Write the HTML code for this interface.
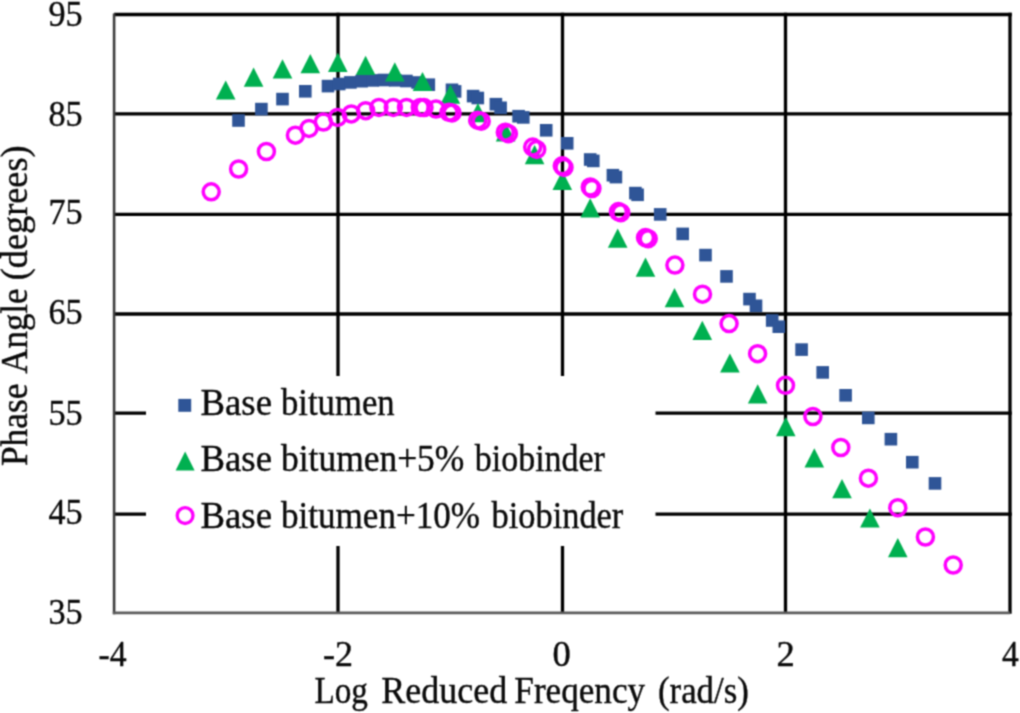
<!DOCTYPE html>
<html lang="en">
<head>
<meta charset="utf-8">
<title>Phase Angle vs Log Reduced Frequency</title>
<style>
html,body{margin:0;padding:0;background:#fff;}
body{width:1020px;height:713px;overflow:hidden;}
svg{display:block;}
text{font-family:"Liberation Serif","Times New Roman",serif;fill:#0a0a0a;stroke:#0a0a0a;stroke-width:0.4px;stroke-linejoin:round;}
</style>
</head>
<body>
<svg width="1020" height="713" viewBox="0 0 1020 713">
<defs><filter id="soft" x="0" y="0" width="1020" height="713" filterUnits="userSpaceOnUse" color-interpolation-filters="sRGB"><feConvolveMatrix order="3" kernelMatrix="0.0484 0.1232 0.0484 0.1232 0.3136 0.1232 0.0484 0.1232 0.0484" edgeMode="duplicate" preserveAlpha="true"/></filter></defs>
<g filter="url(#soft)">
<rect x="0" y="0" width="1020" height="713" fill="#ffffff"/>
<g stroke="#000" stroke-width="3.3" fill="none" stroke-linecap="butt">
<line x1="114.1" y1="14.5" x2="1011.8" y2="14.5"/>
<line x1="114.1" y1="113.8" x2="1011.8" y2="113.8"/>
<line x1="114.1" y1="214.4" x2="1011.8" y2="214.4"/>
<line x1="114.1" y1="314.0" x2="1011.8" y2="314.0"/>
<line x1="114.1" y1="413.1" x2="1011.8" y2="413.1"/>
<line x1="114.1" y1="514.2" x2="1011.8" y2="514.2"/>
<line x1="338.0" y1="12.7" x2="338.0" y2="613.6999999999999"/>
<line x1="562.5" y1="12.7" x2="562.5" y2="613.6999999999999"/>
<line x1="785.5" y1="12.7" x2="785.5" y2="613.6999999999999"/>
<line x1="1010.0" y1="12.7" x2="1010.0" y2="613.6999999999999"/>
</g>
<g fill="none" stroke-linecap="butt">
<line x1="114.1" y1="13.5" x2="114.1" y2="614.3" stroke="#3c3c3c" stroke-width="2.6"/>
<line x1="112.8" y1="612.9" x2="1010.0" y2="612.9" stroke="#5c5c5c" stroke-width="2.7"/>
</g>
<rect x="146" y="376" width="509.5" height="170" fill="#ffffff"/>
<g fill="#2F5597">
<rect x="232.20" y="114.20" width="12.6" height="12.6"/>
<rect x="255.10" y="102.80" width="12.6" height="12.6"/>
<rect x="276.20" y="92.80" width="12.6" height="12.6"/>
<rect x="299.00" y="85.00" width="12.6" height="12.6"/>
<rect x="321.70" y="79.80" width="12.6" height="12.6"/>
<rect x="332.90" y="77.70" width="12.6" height="12.6"/>
<rect x="344.10" y="76.10" width="12.6" height="12.6"/>
<rect x="355.30" y="74.90" width="12.6" height="12.6"/>
<rect x="366.50" y="74.10" width="12.6" height="12.6"/>
<rect x="377.70" y="73.70" width="12.6" height="12.6"/>
<rect x="388.90" y="74.00" width="12.6" height="12.6"/>
<rect x="400.10" y="74.70" width="12.6" height="12.6"/>
<rect x="411.30" y="76.20" width="12.6" height="12.6"/>
<rect x="422.50" y="78.40" width="12.6" height="12.6"/>
<rect x="445.70" y="83.50" width="12.6" height="12.6"/>
<rect x="448.80" y="85.10" width="12.6" height="12.6"/>
<rect x="466.80" y="89.80" width="12.6" height="12.6"/>
<rect x="471.50" y="91.70" width="12.6" height="12.6"/>
<rect x="489.60" y="97.90" width="12.6" height="12.6"/>
<rect x="494.30" y="101.50" width="12.6" height="12.6"/>
<rect x="512.30" y="109.90" width="12.6" height="12.6"/>
<rect x="517.00" y="111.10" width="12.6" height="12.6"/>
<rect x="539.90" y="124.00" width="12.6" height="12.6"/>
<rect x="560.90" y="137.00" width="12.6" height="12.6"/>
<rect x="583.90" y="153.20" width="12.6" height="12.6"/>
<rect x="587.00" y="154.60" width="12.6" height="12.6"/>
<rect x="606.60" y="168.90" width="12.6" height="12.6"/>
<rect x="609.60" y="170.80" width="12.6" height="12.6"/>
<rect x="629.10" y="186.80" width="12.6" height="12.6"/>
<rect x="631.30" y="188.50" width="12.6" height="12.6"/>
<rect x="653.90" y="208.10" width="12.6" height="12.6"/>
<rect x="676.40" y="227.60" width="12.6" height="12.6"/>
<rect x="699.20" y="248.80" width="12.6" height="12.6"/>
<rect x="720.20" y="270.10" width="12.6" height="12.6"/>
<rect x="743.20" y="292.80" width="12.6" height="12.6"/>
<rect x="749.70" y="299.50" width="12.6" height="12.6"/>
<rect x="765.90" y="314.20" width="12.6" height="12.6"/>
<rect x="772.50" y="320.40" width="12.6" height="12.6"/>
<rect x="795.30" y="343.30" width="12.6" height="12.6"/>
<rect x="816.40" y="366.10" width="12.6" height="12.6"/>
<rect x="839.30" y="389.00" width="12.6" height="12.6"/>
<rect x="862.00" y="411.60" width="12.6" height="12.6"/>
<rect x="884.60" y="432.90" width="12.6" height="12.6"/>
<rect x="906.00" y="455.90" width="12.6" height="12.6"/>
<rect x="928.70" y="477.10" width="12.6" height="12.6"/>
</g>
<g fill="#00B050">
<polygon points="225.70,80.40 235.50,99.60 215.90,99.60"/>
<polygon points="253.60,67.50 263.40,86.70 243.80,86.70"/>
<polygon points="282.50,59.30 292.30,78.50 272.70,78.50"/>
<polygon points="310.30,54.10 320.10,73.30 300.50,73.30"/>
<polygon points="337.80,52.70 347.60,71.90 328.00,71.90"/>
<polygon points="365.60,55.70 375.40,74.90 355.80,74.90"/>
<polygon points="394.80,62.20 404.60,81.40 385.00,81.40"/>
<polygon points="422.50,71.90 432.30,91.10 412.70,91.10"/>
<polygon points="450.40,84.50 460.20,103.70 440.60,103.70"/>
<polygon points="477.90,103.10 487.70,122.30 468.10,122.30"/>
<polygon points="505.60,122.40 515.40,141.60 495.80,141.60"/>
<polygon points="534.60,145.00 544.40,164.20 524.80,164.20"/>
<polygon points="562.30,170.70 572.10,189.90 552.50,189.90"/>
<polygon points="590.20,198.20 600.00,217.40 580.40,217.40"/>
<polygon points="617.70,228.50 627.50,247.70 607.90,247.70"/>
<polygon points="645.50,257.50 655.30,276.70 635.70,276.70"/>
<polygon points="674.50,288.00 684.30,307.20 664.70,307.20"/>
<polygon points="702.30,320.80 712.10,340.00 692.50,340.00"/>
<polygon points="729.90,353.40 739.70,372.60 720.10,372.60"/>
<polygon points="757.70,384.20 767.50,403.40 747.90,403.40"/>
<polygon points="785.80,417.10 795.60,436.30 776.00,436.30"/>
<polygon points="814.30,448.20 824.10,467.40 804.50,467.40"/>
<polygon points="842.00,479.00 851.80,498.20 832.20,498.20"/>
<polygon points="869.90,508.40 879.70,527.60 860.10,527.60"/>
<polygon points="897.80,538.00 907.60,557.20 888.00,557.20"/>
</g>
<g fill="none" stroke="#FF00FF" stroke-width="3.5">
<circle cx="211.20" cy="191.80" r="8.0"/>
<circle cx="238.60" cy="169.00" r="8.0"/>
<circle cx="266.40" cy="151.50" r="8.0"/>
<circle cx="295.40" cy="135.20" r="8.0"/>
<circle cx="309.00" cy="128.40" r="8.0"/>
<circle cx="323.40" cy="122.00" r="8.0"/>
<circle cx="337.60" cy="117.40" r="8.0"/>
<circle cx="351.30" cy="113.90" r="8.0"/>
<circle cx="365.70" cy="110.70" r="8.0"/>
<circle cx="378.90" cy="107.40" r="8.0"/>
<circle cx="393.30" cy="107.40" r="8.0"/>
<circle cx="406.50" cy="107.40" r="8.0"/>
<circle cx="420.30" cy="107.40" r="8.0"/>
<circle cx="424.00" cy="107.60" r="8.0"/>
<circle cx="436.00" cy="109.10" r="8.0"/>
<circle cx="449.00" cy="112.30" r="8.0"/>
<circle cx="452.00" cy="112.90" r="8.0"/>
<circle cx="477.70" cy="120.20" r="8.0"/>
<circle cx="481.20" cy="121.20" r="8.0"/>
<circle cx="505.30" cy="132.20" r="8.0"/>
<circle cx="508.40" cy="133.70" r="8.0"/>
<circle cx="532.70" cy="147.10" r="8.0"/>
<circle cx="536.70" cy="149.40" r="8.0"/>
<circle cx="562.30" cy="165.80" r="8.0"/>
<circle cx="564.00" cy="167.40" r="8.0"/>
<circle cx="590.30" cy="187.00" r="8.0"/>
<circle cx="591.90" cy="188.50" r="8.0"/>
<circle cx="618.40" cy="211.60" r="8.0"/>
<circle cx="620.80" cy="212.70" r="8.0"/>
<circle cx="645.50" cy="237.60" r="8.0"/>
<circle cx="648.20" cy="238.70" r="8.0"/>
<circle cx="674.90" cy="265.10" r="8.0"/>
<circle cx="702.50" cy="294.20" r="8.0"/>
<circle cx="729.10" cy="323.60" r="8.0"/>
<circle cx="757.60" cy="353.70" r="8.0"/>
<circle cx="785.50" cy="385.30" r="8.0"/>
<circle cx="812.90" cy="416.50" r="8.0"/>
<circle cx="840.80" cy="447.50" r="8.0"/>
<circle cx="868.40" cy="478.20" r="8.0"/>
<circle cx="897.80" cy="507.70" r="8.0"/>
<circle cx="925.40" cy="537.00" r="8.0"/>
<circle cx="953.20" cy="565.00" r="8.0"/>
</g>
<rect x="178.3" y="398.9" width="12.9" height="12.9" fill="#2F5597"/>
<polygon points="185.1,451.6 194.6,470.4 175.6,470.4" fill="#00B050"/>
<circle cx="185.1" cy="515.6" r="7.9" fill="none" stroke="#FF00FF" stroke-width="3.3"/>
<g font-size="36.6">
<text x="48.5" y="26.4" textLength="34.1" lengthAdjust="spacingAndGlyphs">95</text>
<text x="48.5" y="125.7" textLength="34.1" lengthAdjust="spacingAndGlyphs">85</text>
<text x="48.5" y="224.4" textLength="34.1" lengthAdjust="spacingAndGlyphs">75</text>
<text x="48.5" y="324.1" textLength="34.1" lengthAdjust="spacingAndGlyphs">65</text>
<text x="48.5" y="425.4" textLength="34.1" lengthAdjust="spacingAndGlyphs">55</text>
<text x="48.5" y="524.4" textLength="34.1" lengthAdjust="spacingAndGlyphs">45</text>
<text x="48.5" y="623.8" textLength="34.1" lengthAdjust="spacingAndGlyphs">35</text>
<text x="98.5" y="665.8" textLength="28.1" lengthAdjust="spacingAndGlyphs">-4</text>
<text x="323.0" y="665.8" textLength="30" lengthAdjust="spacingAndGlyphs">-2</text>
<text x="552.4" y="665.8">0</text>
<text x="776.4" y="665.8">2</text>
<text x="1001.9" y="665.8" textLength="16.7" lengthAdjust="spacingAndGlyphs">4</text>
</g>
<g font-size="37.4">
<text y="703.3"><tspan x="314.47" textLength="53.43" lengthAdjust="spacingAndGlyphs">Log</tspan> <tspan x="381.34" textLength="125.79" lengthAdjust="spacingAndGlyphs">Reduced</tspan> <tspan x="514.35" textLength="130.76" lengthAdjust="spacingAndGlyphs">Freqency</tspan> <tspan x="657.97" textLength="90.88" lengthAdjust="spacingAndGlyphs">(rad/s)</tspan></text>
<text y="0" transform="translate(26.5,466.4) rotate(-90)"><tspan x="0.36" textLength="82.38" lengthAdjust="spacingAndGlyphs">Phase</tspan> <tspan x="92.69" textLength="85.19" lengthAdjust="spacingAndGlyphs">Angle</tspan> <tspan x="186.13" textLength="134.84" lengthAdjust="spacingAndGlyphs">(degrees)</tspan></text>
<text y="414.9"><tspan x="200.48" textLength="71.5" lengthAdjust="spacingAndGlyphs">Base</tspan> <tspan x="281.01" textLength="113.61" lengthAdjust="spacingAndGlyphs">bitumen</tspan></text>
<text y="471.0"><tspan x="200.48" textLength="71.5" lengthAdjust="spacingAndGlyphs">Base</tspan> <tspan x="281.03" textLength="183.35" lengthAdjust="spacingAndGlyphs">bitumen+5%</tspan> <tspan x="474.8" textLength="130.08" lengthAdjust="spacingAndGlyphs">biobinder</tspan></text>
<text y="528.0"><tspan x="200.48" textLength="71.5" lengthAdjust="spacingAndGlyphs">Base</tspan> <tspan x="281.03" textLength="198.96" lengthAdjust="spacingAndGlyphs">bitumen+10%</tspan> <tspan x="491.6" textLength="131.68" lengthAdjust="spacingAndGlyphs">biobinder</tspan></text>
</g>
</g>
</svg>
</body>
</html>
